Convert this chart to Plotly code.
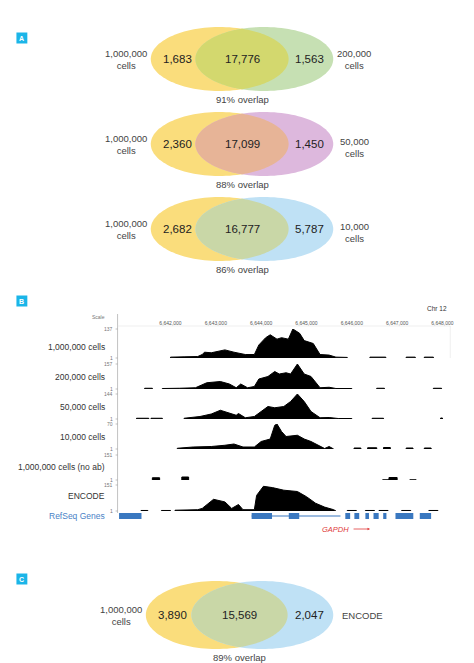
import numpy as np
import plotly.graph_objects as go

W, H = 474, 663
# ---------------- data ----------------
venn_left_labels = ["1,000,000<br>cells"] * 3 + ["1,000,000<br>cells"]
venn_right_labels = ["200,000<br>cells", "50,000<br>cells", "10,000<br>cells", "ENCODE"]
venn_left_only = ["1,683", "2,360", "2,682", "3,890"]
venn_shared = ["17,776", "17,099", "16,777", "15,569"]
venn_right_only = ["1,563", "1,450", "5,787", "2,047"]
venn_overlap = ["91% overlap", "88% overlap", "86% overlap", "89% overlap"]
venn_right_colors = ["#C6E0B3", "#DDB8DD", "#BFE1F5", "#BFE1F5"]
venn_mid_colors = ["#D3D86E", "#E7B497", "#C9D7A7", "#C9D7A7"]
yellow = "#FADD7C"

track_names = ["1,000,000 cells", "200,000 cells", "50,000 cells", "10,000 cells",
               "1,000,000 cells (no ab)", "ENCODE"]
track_max = ["137", "157", "144", "70", "151", "151"]
N = None
t1_pos = [6642.0, 6642.3, 6642.6, 6642.7, 6642.75, 6642.9, 6643.05, 6643.2, 6643.4, 6643.65, 6643.85, 6643.95, 6644.1, 6644.2, 6644.35, 6644.45, 6644.6, 6644.7, 6644.85, 6644.95, 6645.15, 6645.3, 6645.5, 6645.65, 6645.9, N,
          6646.4, 6646.75, N, 6647.2, 6647.4, N, 6647.6, 6647.8]
t1_val = [0.03, 0.04, 0.05, 0.12, 0.2, 0.18, 0.22, 0.28, 0.2, 0.12, 0.12, 0.45, 0.7, 0.8, 0.65, 0.7, 0.65, 1.0, 0.85, 0.6, 0.5, 0.12, 0.1, 0.03, 0.02, N,
          0.03, 0.03, N, 0.03, 0.03, N, 0.03, 0.03]
t2_pos = [6640.78, 6640.85, N, 6641.43, 6641.6, N, 6641.82, 6642.2, 6642.55, 6642.8, 6643.1, 6643.3, 6643.45, 6643.55, 6643.7, 6643.85, 6643.95, 6644.15, 6644.3, 6644.4, 6644.55, 6644.65, 6644.8, 6644.95, 6645.1, 6645.3, 6645.5, 6645.65, 6646.0, N,
          6646.55, 6646.72, N, 6647.8, 6647.98]
t2_val = [0.03, 0.03, N, 0.03, 0.03, N, 0.02, 0.03, 0.05, 0.25, 0.3, 0.2, 0.05, 0.2, 0.05, 0.1, 0.4, 0.5, 0.7, 0.6, 0.65, 0.6, 1.0, 0.6, 0.5, 0.05, 0.07, 0.02, 0.02, N,
          0.03, 0.03, N, 0.03, 0.03]
t3_pos = [6641.25, 6641.52, N, 6641.57, 6641.82, N, 6642.3, 6642.65, 6642.9, 6643.1, 6643.3, 6643.45, 6643.5, 6643.65, 6643.85, 6644.0, 6644.15, 6644.3, 6644.5, 6644.65, 6644.8, 6644.95, 6645.1, 6645.3, 6645.5, 6645.7, 6646.0, N,
          6646.45, 6646.7, N, 6647.96, 6648.0]
t3_val = [0.03, 0.03, N, 0.03, 0.03, N, 0.03, 0.1, 0.2, 0.35, 0.22, 0.15, 0.22, 0.05, 0.1, 0.3, 0.5, 0.45, 0.5, 0.7, 1.0, 0.7, 0.3, 0.05, 0.06, 0.02, 0.02, N,
          0.03, 0.03, N, 0.04, 0.04]
t4_pos = [6642.15, 6642.5, 6642.9, 6643.2, 6643.4, 6643.6, 6643.85, 6644.0, 6644.2, 6644.3, 6644.35, 6644.45, 6644.55, 6644.8, 6644.95, 6645.1, 6645.3, 6645.4, 6645.5, 6645.6, N,
          6646.05, 6646.2, N, 6646.35, 6646.55, N, 6646.7, 6646.85, N, 6647.2, 6647.35, N, 6647.6, 6647.75]
t4_val = [0.03, 0.08, 0.1, 0.15, 0.2, 0.08, 0.08, 0.3, 0.4, 0.95, 1.0, 0.7, 0.5, 0.55, 0.4, 0.3, 0.1, 0.02, 0.1, 0.02, N,
          0.04, 0.04, N, 0.05, 0.05, N, 0.06, 0.06, N, 0.04, 0.04, N, 0.04, 0.04]
t5_pos = [6641.6, 6641.76, N, 6642.25, 6642.4, N, 6646.68, 6646.82, N, 6646.82, 6647.0, N, 6647.28, 6647.42]
t5_val = [0.09, 0.09, N, 0.12, 0.12, N, 0.01, 0.01, N, 0.1, 0.1, N, 0.01, 0.01]
t6_pos = [6641.35, 6641.5, N, 6641.8, 6642.0, N, 6642.1, 6642.6, 6642.7, 6642.95, 6643.2, 6643.35, 6643.5, 6643.6, 6643.85, 6643.9, 6644.05, 6644.25, 6644.5, 6644.8, 6645.0, 6645.2, 6645.4, 6645.6, 6645.65, N,
          6645.9, 6646.1, N, 6646.3, 6646.5, N, 6646.6, 6646.8, N, 6647.1, 6647.3, N, 6647.7, 6647.9]
t6_val = [0.02, 0.02, N, 0.02, 0.02, N, 0.03, 0.05, 0.1, 0.45, 0.35, 0.1, 0.25, 0.05, 0.05, 0.6, 0.95, 0.9, 0.8, 0.75, 0.55, 0.3, 0.15, 0.05, 0.01, N,
          0.02, 0.02, N, 0.02, 0.02, N, 0.02, 0.02, N, 0.02, 0.02, N, 0.02, 0.02]
tracks = [(t1_pos, t1_val), (t2_pos, t2_val), (t3_pos, t3_val), (t4_pos, t4_val), (t5_pos, t5_val), (t6_pos, t6_val)]

scale_ticks = [6642, 6643, 6644, 6645, 6646, 6647, 6648]
scale_tick_text = ["6,642,000", "6,643,000", "6,644,000", "6,645,000", "6,646,000", "6,647,000", "6,648,000"]
gene_line = [6643.79, 6645.75]
exon_start = [6640.86, 6643.79, 6644.61, 6645.857, 6646.057, 6646.3, 6646.479, 6646.693, 6646.964, 6647.5]
exon_end = [6641.36, 6644.24, 6644.84, 6645.964, 6646.164, 6646.379, 6646.593, 6646.764, 6647.357, 6647.75]

# ---------------- layout helpers ----------------
fig = go.Figure()
FONT = "Liberation Sans, Arial, sans-serif"
shapes, ann = [], []

def T(x, y, text, size=9, color="#333", xanchor="center", **kw):
    ann.append(dict(x=x, y=y, xref="x", yref="y", text=text, showarrow=False,
                    font=dict(size=size, color=color, family=FONT), xanchor=xanchor, yanchor="middle", **kw))

def ell_pts(cx, cy, rx, ry, n=120):
    t = np.linspace(0, 2 * np.pi, n)
    return cx + rx * np.cos(t), cy + ry * np.sin(t)

def path(xs, ys):
    return "M " + " L ".join(f"{a:.2f},{b:.2f}" for a, b in zip(xs, ys)) + " Z"

venn_geom = [(144, 189, 19, 83), (144, 189, 104, 168), (144, 189, 189, 253), (139, 185, 573, 641)]
for i, (l1, l2, y0, y1) in enumerate(venn_geom):
    rx = (283 - l1) / 2 if i < 3 else (282 - l1) / 2
    cy, ry = (y0 + y1) / 2, (y1 - y0) / 2
    c1, c2 = l1 + rx, l2 + rx
    shapes.append(dict(type="path", path=path(*ell_pts(c1, cy, rx, ry)), fillcolor=yellow, line_width=0, xref="x", yref="y", layer="below"))
    shapes.append(dict(type="path", path=path(*ell_pts(c2, cy, rx, ry)), fillcolor=venn_right_colors[i], line_width=0, xref="x", yref="y", layer="below"))
    t = np.linspace(0, 2 * np.pi, 400)
    ex, ey = c1 + rx * np.cos(t), cy + ry * np.sin(t)
    inside = ((ex - c2) / rx) ** 2 + ((ey - cy) / ry) ** 2 <= 1
    ex2, ey2 = c2 + rx * np.cos(t), cy + ry * np.sin(t)
    in2 = ((ex2 - c1) / rx) ** 2 + ((ey2 - cy) / ry) ** 2 <= 1
    pts = np.concatenate([np.c_[ex[inside], ey[inside]], np.c_[ex2[in2], ey2[in2]]])
    ang = np.arctan2(pts[:, 1] - cy, pts[:, 0] - (c1 + c2) / 2)
    pts = pts[np.argsort(ang)]
    shapes.append(dict(type="path", path=path(pts[:, 0], pts[:, 1]), fillcolor=venn_mid_colors[i], line_width=0, xref="x", yref="y", layer="below"))
    mid = (c1 + c2) / 2
    r_end = l2 + 2 * rx
    T(l1 + 27, cy, venn_left_only[i], 11.5, "#222")
    T(mid, cy, venn_shared[i], 11.5, "#222")
    T(r_end - 24, cy, venn_right_only[i], 11.5, "#222")
    T(l1 - 2, cy, venn_left_labels[i], 9.5, "#444", xanchor="right", align="center")
    if i < 3:
        T(r_end + 21, cy + (0 if i == 0 else 3), venn_right_labels[i], 9.5, "#444", align="center")
    else:
        T(r_end + 7, cy, venn_right_labels[i], 9.5, "#444", xanchor="left")
    T(mid, y1 + 8, venn_overlap[i], 9.5, "#444")

for letter, (px, py) in zip(["A", "B", "C"], [(14, 30), (14, 293), (14, 571)]):
    shapes.append(dict(type="rect", x0=px - 5.5, x1=px + 5.5, y0=py - 5.5, y1=py + 5.5, fillcolor="#1BB5E8", line_width=0, xref="x", yref="y"))
    T(px, py, "<b>" + letter + "</b>", 7, "white")

fig.add_trace(go.Scatter(x=[0], y=[0], mode="markers", marker_opacity=0, hoverinfo="skip", xaxis="x", yaxis="y"))

def polygons(pos, val):
    xs, ys, seg = [], [], []
    for p, v in list(zip(pos, val)) + [(None, None)]:
        if p is None:
            if seg:
                sx = [a for a, _ in seg]
                sy = [b for _, b in seg]
                xs += [sx[0]] + sx + [sx[-1], None]
                ys += [0] + sy + [0, None]
            seg = []
        else:
            seg.append((p, v))
    return xs, ys

XL, XR = 112, 445
tops = [321, 356, 386, 416, 447, 477]
bases = [350, 381, 411, 441, 472, 503]
label_y = [339, 369, 399, 429, 459, 488]
kb0 = 6642 + (XL - 165) / 46.7
kb1 = 6648.15
layout_axes = {}
for k, ((p, v), top, base) in enumerate(zip(tracks, tops, bases)):
    n = k + 2
    px_, py_ = polygons(p, v)
    fig.add_trace(go.Scatter(x=px_, y=py_, mode="lines", fill="toself", fillcolor="black",
                             line=dict(color="black", width=1.0),
                             xaxis=f"x{n}", yaxis=f"y{n}", hoverinfo="skip"))
    layout_axes[f"xaxis{n}"] = dict(domain=[XL / W, XR / W], range=[kb0, kb1], visible=False, anchor=f"y{n}")
    layout_axes[f"yaxis{n}"] = dict(domain=[1 - base / H, 1 - top / H], range=[0, 1], visible=False, anchor=f"x{n}")
    T(108, top, track_max[k], 5, "#777", xanchor="right")
    T(108, base, "1", 5, "#777", xanchor="right")
    shapes.append(dict(type="line", x0=108.5, x1=110.5, y0=top, y1=top, xref="x", yref="y", line=dict(color="#999", width=0.6)))
    shapes.append(dict(type="line", x0=108.5, x1=110.5, y0=base, y1=base, xref="x", yref="y", line=dict(color="#999", width=0.6)))
    T(100, label_y[k], track_names[k], 8.5, "#333", xanchor="right")

n = 8
fig.add_trace(go.Scatter(x=gene_line, y=[0, 0], mode="lines", line=dict(color="#3A78C0", width=1.2),
                         xaxis=f"x{n}", yaxis=f"y{n}", hoverinfo="skip"))
ex_x, ex_y = [], []
for s, e in zip(exon_start, exon_end):
    ex_x += [s, e, None]
    ex_y += [0, 0, None]
fig.add_trace(go.Scatter(x=ex_x, y=ex_y, mode="lines", line=dict(color="#3A78C0", width=6),
                         xaxis=f"x{n}", yaxis=f"y{n}", hoverinfo="skip"))
layout_axes[f"xaxis{n}"] = dict(domain=[XL / W, XR / W], range=[kb0, kb1], visible=False, anchor=f"y{n}")
layout_axes[f"yaxis{n}"] = dict(domain=[1 - 514 / H, 1 - 502 / H], range=[-1, 1], visible=False, anchor=f"x{n}")
T(100, 508, "RefSeq Genes", 8.5, "#4A82C6", xanchor="right")
T(330, 521, "<i>GAPDH</i>", 7.5, "#E03A3A")
ann.append(dict(x=365, y=521, ax=347, ay=521, xref="x", yref="y", axref="x", ayref="y", text="", showarrow=True,
                arrowhead=2, arrowsize=0.6, arrowwidth=0.8, arrowcolor="#E03A3A"))

layout_axes["xaxis9"] = dict(domain=[XL / W, XR / W], range=[kb0, kb1], anchor="free", position=1 - 318 / H, side="top",
                             tickvals=scale_ticks, ticktext=scale_tick_text, tickfont=dict(size=5, color="#555", family=FONT),
                             showline=False, showgrid=False, ticks="", overlaying="x2")
fig.add_trace(go.Scatter(x=[kb0], y=[0], mode="markers", marker_opacity=0, xaxis="x9", yaxis="y2", hoverinfo="skip"))
T(100, 309, "Scale", 5, "#777", xanchor="right")
T(445, 300, "Chr 12", 6.5, "#333", xanchor="right")
shapes.append(dict(type="line", x0=110.5, x1=110.5, y0=306, y1=505, xref="x", yref="y", line=dict(color="#999", width=0.6)))
shapes.append(dict(type="line", x0=110.5, x1=446, y0=318, y1=318, xref="x", yref="y", line=dict(color="#ddd", width=0.5)))
shapes.append(dict(type="line", x0=446, x1=446, y0=318, y1=350, xref="x", yref="y", line=dict(color="#ddd", width=0.5)))

fig.update_layout(
    width=W, height=H, margin=dict(l=0, r=0, t=0, b=0), showlegend=False,
    paper_bgcolor="white", plot_bgcolor="rgba(0,0,0,0)",
    xaxis=dict(domain=[0, 1], range=[0, W], visible=False, fixedrange=True),
    yaxis=dict(domain=[0, 1], range=[H, 0], visible=False, fixedrange=True),
    shapes=shapes, annotations=ann, **layout_axes,
)
fig.write_html("out.html")
